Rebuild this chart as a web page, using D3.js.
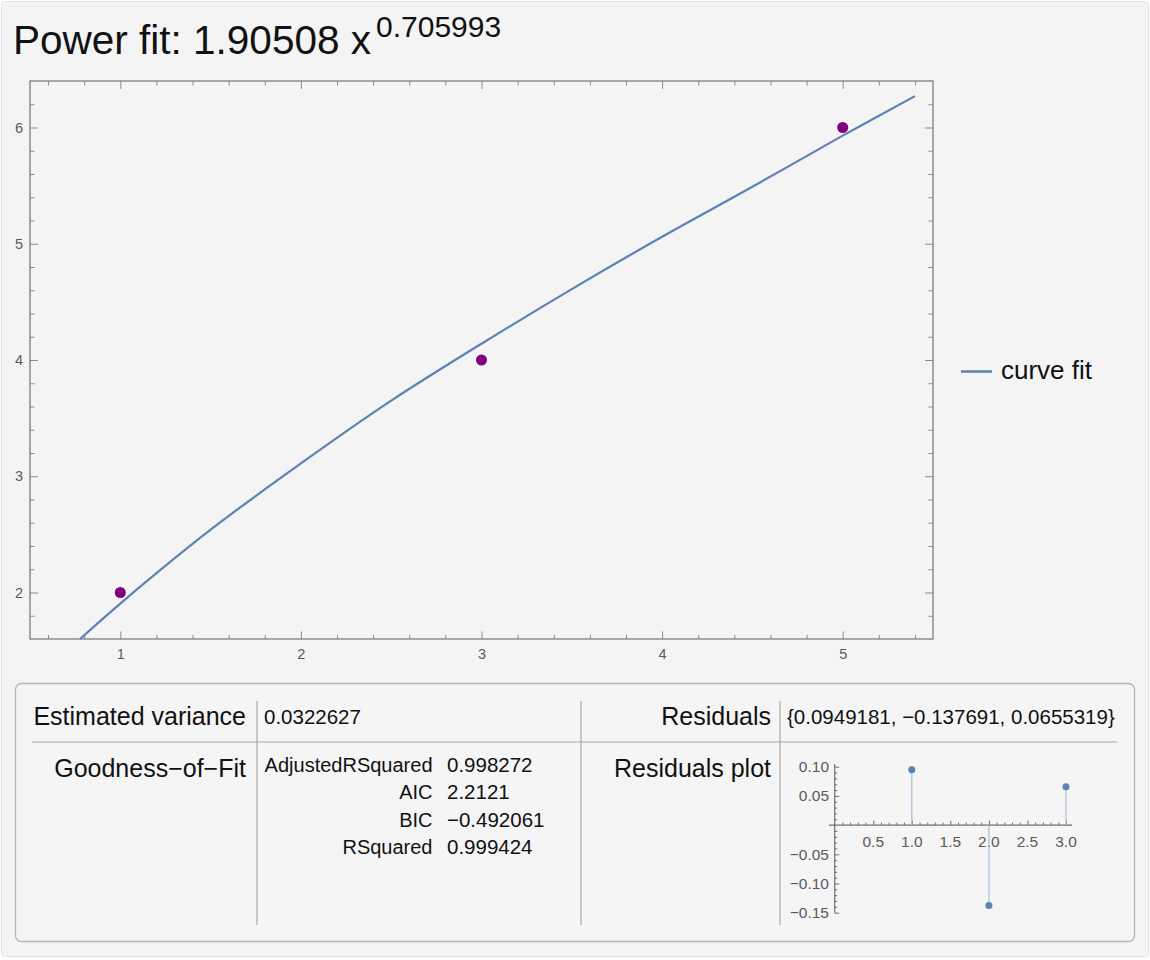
<!DOCTYPE html>
<html>
<head>
<meta charset="utf-8">
<script src="https://cdn.jsdelivr.net/npm/d3@7"></script>
<style>
  body { margin: 0; background: #ffffff; }
  svg { display: block; font-family: "Liberation Sans", Arial, Helvetica, sans-serif; }
</style>
</head>
<body>
<svg id="chart" width="1150" height="960"></svg>
<script>
// ---------------- data ----------------
const titleMain = "Power fit: 1.90508 x";
const titleExponent = "0.705993";

const pointX = [1, 3, 5];
const pointY = [2, 4, 6];

// fitted curve
const curveX = [0.777, 1, 1.5, 2, 2.5, 3, 3.5, 4, 4.5, 5, 5.4];
const curveY = [1.60, 1.905, 2.54, 3.11, 3.65, 4.14, 4.61, 5.06, 5.49, 5.93, 6.27];

const xTickValues = [1, 2, 3, 4, 5];
const yTickValues = [2, 3, 4, 5, 6];
const xDomain = [0.5, 5.5];
const yDomain = [1.6, 6.4];

const legendLabel = "curve fit";

const varianceLabel = "Estimated variance";
const varianceValue = "0.0322627";
const residualsLabel = "Residuals";
const residualsText = "{0.0949181, \u22120.137691, 0.0655319}";
const goodnessLabel = "Goodness\u2212of\u2212Fit";
const goodnessNames = ["AdjustedRSquared", "AIC", "BIC", "RSquared"];
const goodnessValues = ["0.998272", "2.2121", "\u22120.492061", "0.999424"];
const residualsPlotLabel = "Residuals plot";

const residualX = [1, 2, 3];
const residualY = [0.0949181, -0.137691, 0.0655319];
const resXTicks = [0.5, 1.0, 1.5, 2.0, 2.5, 3.0];
const resYTicks = [0.10, 0.05, -0.05, -0.10, -0.15];

// ---------------- drawing ----------------
const svg = d3.select("#chart");
const blue = "#5E81B5";
const tickColor = "#8a8a8a";
const labelColor = "#5a5a5a";

svg.append("rect").attr("x", 1.5).attr("y", 1.5).attr("width", 1147).attr("height", 955)
  .attr("rx", 4).attr("fill", "#f4f4f4").attr("stroke", "#e2e2e2");

// title
const title = svg.append("text").attr("x", 13).attr("y", 54).attr("fill", "#111")
  .style("font-size", "40.5px");
title.append("tspan").text(titleMain);
title.append("tspan").attr("x", 376).attr("y", 37).style("font-size", "30px").text(titleExponent);

// main plot
const L = 30, R = 933, T = 81, B = 639;
const x = d3.scaleLinear().domain(xDomain).range([L, R]);
const y = d3.scaleLinear().domain(yDomain).range([B, T]);

const minorX = d3.range(0.6, 5.45, 0.2).map(v => +v.toFixed(1)).filter(v => Math.abs(v - Math.round(v)) > 1e-6);
const minorY = d3.range(1.6, 6.45, 0.2).map(v => +v.toFixed(1)).filter(v => Math.abs(v - Math.round(v)) > 1e-6 && v > 1.6 && v < 6.4);

function styleAxis(g, fs) {
  g.select(".domain").remove();
  g.selectAll(".tick line").attr("stroke", tickColor).attr("stroke-width", 1);
  g.selectAll(".tick text").attr("fill", labelColor).style("font-size", fs).style("font-family", "'Liberation Sans', Arial, sans-serif");
}

// bottom
svg.append("g").attr("transform", `translate(0,${B})`)
  .call(d3.axisBottom(x).tickValues(xTickValues).tickSize(-7.5).tickPadding(10).tickFormat(d3.format("d")))
  .call(g => styleAxis(g, "14.5px"));
svg.append("g").attr("transform", `translate(0,${B})`)
  .call(d3.axisBottom(x).tickValues(minorX).tickSize(-4).tickFormat(""))
  .call(g => styleAxis(g, "14.5px"));
// top
svg.append("g").attr("transform", `translate(0,${T})`)
  .call(d3.axisTop(x).tickValues(xTickValues).tickSize(-8).tickFormat(""))
  .call(g => styleAxis(g, "14.5px"));
svg.append("g").attr("transform", `translate(0,${T})`)
  .call(d3.axisTop(x).tickValues(minorX).tickSize(-4.5).tickFormat(""))
  .call(g => styleAxis(g, "14.5px"));
// left
svg.append("g").attr("transform", `translate(${L},0)`)
  .call(d3.axisLeft(y).tickValues(yTickValues).tickSize(-8).tickPadding(7).tickFormat(d3.format("d")))
  .call(g => styleAxis(g, "14.5px"));
svg.append("g").attr("transform", `translate(${L},0)`)
  .call(d3.axisLeft(y).tickValues(minorY).tickSize(-4.5).tickFormat(""))
  .call(g => styleAxis(g, "14.5px"));
// right
svg.append("g").attr("transform", `translate(${R},0)`)
  .call(d3.axisRight(y).tickValues(yTickValues).tickSize(-8).tickFormat(""))
  .call(g => styleAxis(g, "14.5px"));
svg.append("g").attr("transform", `translate(${R},0)`)
  .call(d3.axisRight(y).tickValues(minorY).tickSize(-4.5).tickFormat(""))
  .call(g => styleAxis(g, "14.5px"));

svg.append("rect").attr("x", L).attr("y", T).attr("width", R - L).attr("height", B - T)
  .attr("fill", "none").attr("stroke", "#7f7f7f").attr("stroke-width", 1.3);

// curve
const curveData = curveX.map((v, i) => [v, curveY[i]]);
svg.append("path").datum(curveData)
  .attr("fill", "none").attr("stroke", blue).attr("stroke-width", 2.2)
  .attr("d", d3.line().x(d => x(d[0])).y(d => y(d[1])).curve(d3.curveCatmullRom));

// points
svg.append("g").selectAll("circle").data(pointX.map((v, i) => [v, pointY[i]])).join("circle")
  .attr("cx", d => x(d[0])).attr("cy", d => y(d[1])).attr("r", 5.5).attr("fill", "#800080");

// legend
svg.append("line").attr("x1", 961).attr("x2", 992).attr("y1", 371.5).attr("y2", 371.5)
  .attr("stroke", blue).attr("stroke-width", 2.5);
svg.append("text").attr("x", 1001).attr("y", 378.5).attr("fill", "#111").style("font-size", "26px").text(legendLabel);

// ---------------- table ----------------
svg.append("rect").attr("x", 15.5).attr("y", 683.5).attr("width", 1119).attr("height", 258)
  .attr("rx", 6).attr("fill", "#f5f5f5").attr("stroke", "#b5b5b5").attr("stroke-width", 1.3);

const gridColor = "#a8a8a8";
[257, 581, 780].forEach(vx => {
  svg.append("line").attr("x1", vx).attr("x2", vx).attr("y1", 701).attr("y2", 925)
    .attr("stroke", gridColor).attr("stroke-width", 1.2);
});
svg.append("line").attr("x1", 32).attr("x2", 1117).attr("y1", 742).attr("y2", 742)
  .attr("stroke", gridColor).attr("stroke-width", 1.2);

function txt(tx, ty, s, size, anchor, fill) {
  return svg.append("text").attr("x", tx).attr("y", ty).attr("text-anchor", anchor || "start")
    .attr("fill", fill || "#111").style("font-size", size).text(s);
}
txt(246, 725, varianceLabel, "25px", "end");
txt(264, 724, varianceValue, "20.5px");
txt(771, 725, residualsLabel, "25px", "end");
txt(787, 724, residualsText, "20.5px");
txt(246, 777, goodnessLabel, "25px", "end");
txt(771, 777, residualsPlotLabel, "25px", "end");

const rowY = d3.scaleLinear().domain([0, 3]).range([772, 854]);
goodnessNames.forEach((n, i) => {
  txt(432.5, rowY(i), n, "20px", "end");
  txt(447, rowY(i), goodnessValues[i], "20.5px");
});

// ---------------- residuals plot ----------------
const rx = d3.scaleLinear().domain([0, 3]).range([834.7, 1066]);
const ry = d3.scaleLinear().domain([-0.15, 0.10]).range([912.7, 766.7]);
const axisCol = "#6e6e6e";

const resMinorX = d3.range(0.1, 3.05, 0.1).map(v => +v.toFixed(1)).filter(v => Math.abs(v * 2 - Math.round(v * 2)) > 1e-6);
const resMinorY = d3.range(-0.15, 0.105, 0.01).map(v => +v.toFixed(2)).filter(v => Math.abs(v * 20 - Math.round(v * 20)) > 1e-6);

// x axis
svg.append("line").attr("x1", 829).attr("x2", 1072).attr("y1", ry(0)).attr("y2", ry(0))
  .attr("stroke", axisCol).attr("stroke-width", 1.2);
svg.append("g").attr("transform", `translate(0,${ry(0)})`)
  .call(d3.axisTop(rx).tickValues(resXTicks).tickSize(4.5).tickFormat(""))
  .call(g => { g.select(".domain").remove(); g.selectAll(".tick line").attr("stroke", axisCol); });
svg.append("g").attr("transform", `translate(0,${ry(0)})`)
  .call(d3.axisTop(rx).tickValues(resMinorX).tickSize(2.5).tickFormat(""))
  .call(g => { g.select(".domain").remove(); g.selectAll(".tick line").attr("stroke", axisCol); });
svg.append("g").selectAll("text").data(resXTicks).join("text")
  .attr("x", d => rx(d)).attr("y", 846.5).attr("text-anchor", "middle")
  .attr("fill", labelColor).style("font-size", "15.5px").text(d => d3.format(".1f")(d));

// y axis
svg.append("line").attr("x1", rx(0)).attr("x2", rx(0)).attr("y1", 764).attr("y2", ry(-0.15))
  .attr("stroke", axisCol).attr("stroke-width", 1.2);
svg.append("g").attr("transform", `translate(${rx(0)},0)`)
  .call(d3.axisRight(ry).tickValues(resYTicks).tickSize(4.5).tickFormat(""))
  .call(g => { g.select(".domain").remove(); g.selectAll(".tick line").attr("stroke", axisCol); });
svg.append("g").attr("transform", `translate(${rx(0)},0)`)
  .call(d3.axisRight(ry).tickValues(resMinorY).tickSize(2.5).tickFormat(""))
  .call(g => { g.select(".domain").remove(); g.selectAll(".tick line").attr("stroke", axisCol); });
svg.append("g").selectAll("text").data(resYTicks).join("text")
  .attr("x", 829).attr("y", d => ry(d)).attr("dy", "0.36em").attr("text-anchor", "end")
  .attr("fill", labelColor).style("font-size", "15.5px")
  .text(d => d3.format(".2f")(d).replace("-", "\u2212"));

// stems and points
const resData = residualX.map((v, i) => [v, residualY[i]]);
svg.append("g").selectAll("line").data(resData).join("line")
  .attr("x1", d => rx(d[0])).attr("x2", d => rx(d[0]))
  .attr("y1", ry(0)).attr("y2", d => ry(d[1]))
  .attr("stroke", "#a9bcd9").attr("stroke-width", 1.2);
svg.append("g").selectAll("circle").data(resData).join("circle")
  .attr("cx", d => rx(d[0])).attr("cy", d => ry(d[1])).attr("r", 3.5).attr("fill", blue);
</script>
</body>
</html>
